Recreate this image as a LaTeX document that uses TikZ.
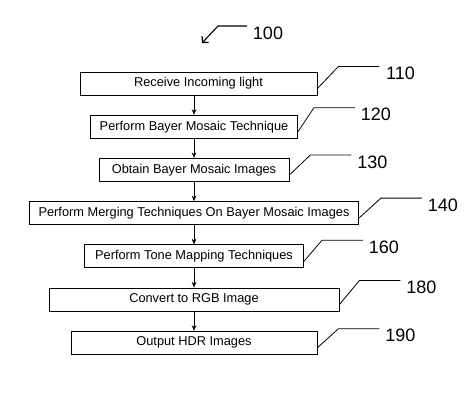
\documentclass[tikz,border=0pt]{standalone}
\usepackage{fontspec}
\setmainfont{Liberation Sans}
\usepackage{tikz}
\usetikzlibrary{arrows.meta, positioning}

\begin{document}
\begin{tikzpicture}[
  x=1pt, y=1pt,
  >={Stealth[length=5.5pt,width=4.5pt]},
  node distance=19.3pt,
  box/.style={rectangle, draw, line width=0.9pt, minimum height=23pt, inner sep=0pt, font=\fontsize{12.8}{15}\selectfont},
  num/.style={inner sep=0pt, font=\fontsize{18}{20}\selectfont},
  lead/.style={line width=0.8pt},
]
  \useasboundingbox (0,0) rectangle (474,-410);

  \node[box, minimum width=237pt] (recv) at (198.5,-83.5) {Receive Incoming light};
  \node[box, minimum width=207pt, below=of recv, xshift=-4.5pt] (bayer) {Perform Bayer Mosaic Technique};
  \node[box, minimum width=190pt, below=of bayer] (obtain) {Obtain Bayer Mosaic Images};
  \node[box, minimum width=329pt, below=of obtain] (merge) {Perform Merging Techniques On Bayer Mosaic Images};
  \node[box, minimum width=219pt, below=of merge] (tone) {Perform Tone Mapping Techniques};
  \node[box, minimum width=290pt, below=of tone] (rgb) {Convert to RGB Image};
  \node[box, minimum width=246pt, below=of rgb] (hdr) {Output HDR Images};

  \draw[->] (recv.south -| bayer.north) -- (bayer.north);
  \draw[->] (bayer) -- (obtain);
  \draw[->] (obtain) -- (merge);
  \draw[->] (merge) -- (tone);
  \draw[->] (tone) -- (rgb);
  \draw[->] (rgb) -- (hdr);

  % reference numerals
  \node[num] (n100) at (268,-33) {100};
  \node[num] (n110) at ([xshift=83pt,yshift=10pt]recv.east) {110};
  \node[num] (n120) at ([xshift=78pt,yshift=12pt]bayer.east) {120};
  \node[num] (n130) at ([xshift=83pt,yshift=8pt]obtain.east) {130};
  \node[num] (n140) at ([xshift=84pt,yshift=8pt]merge.east) {140};
  \node[num] (n160) at ([xshift=80pt,yshift=9pt]tone.east) {160};
  \node[num] (n180) at ([xshift=82pt,yshift=12pt]rgb.east) {180};
  \node[num] (n190) at ([xshift=83pt,yshift=7pt]hdr.east) {190};

  \coordinate (tip100) at (202,-43);
  \draw[lead, line width=1.1pt, -{Straight Barb[length=4pt,width=9pt,line width=1.4pt]}] ([xshift=-21pt,yshift=7pt]n100.center) -- ([xshift=-50pt,yshift=7pt]n100.center) -- (tip100);

  \draw[lead] ([yshift=-5pt]recv.east) -- ([xshift=-62pt,yshift=7pt]n110.center) -- ([xshift=-21pt,yshift=7pt]n110.center);
  \draw[lead] ([yshift=-5pt]bayer.east) -- ([xshift=-62pt,yshift=7pt]n120.center) -- ([xshift=-21pt,yshift=7pt]n120.center);
  \draw[lead] ([yshift=-5pt]obtain.east) -- ([xshift=-62pt,yshift=7pt]n130.center) -- ([xshift=-21pt,yshift=7pt]n130.center);
  \draw[lead] ([yshift=-5pt]merge.east) -- ([xshift=-62pt,yshift=7pt]n140.center) -- ([xshift=-21pt,yshift=7pt]n140.center);
  \draw[lead] ([yshift=-5pt]tone.east) -- ([xshift=-62pt,yshift=7pt]n160.center) -- ([xshift=-21pt,yshift=7pt]n160.center);
  \draw[lead] ([yshift=-5pt]rgb.east) -- ([xshift=-62pt,yshift=7pt]n180.center) -- ([xshift=-21pt,yshift=7pt]n180.center);
  \draw[lead] ([yshift=-5pt]hdr.east) -- ([xshift=-62pt,yshift=7pt]n190.center) -- ([xshift=-21pt,yshift=7pt]n190.center);
\end{tikzpicture}
\end{document}
